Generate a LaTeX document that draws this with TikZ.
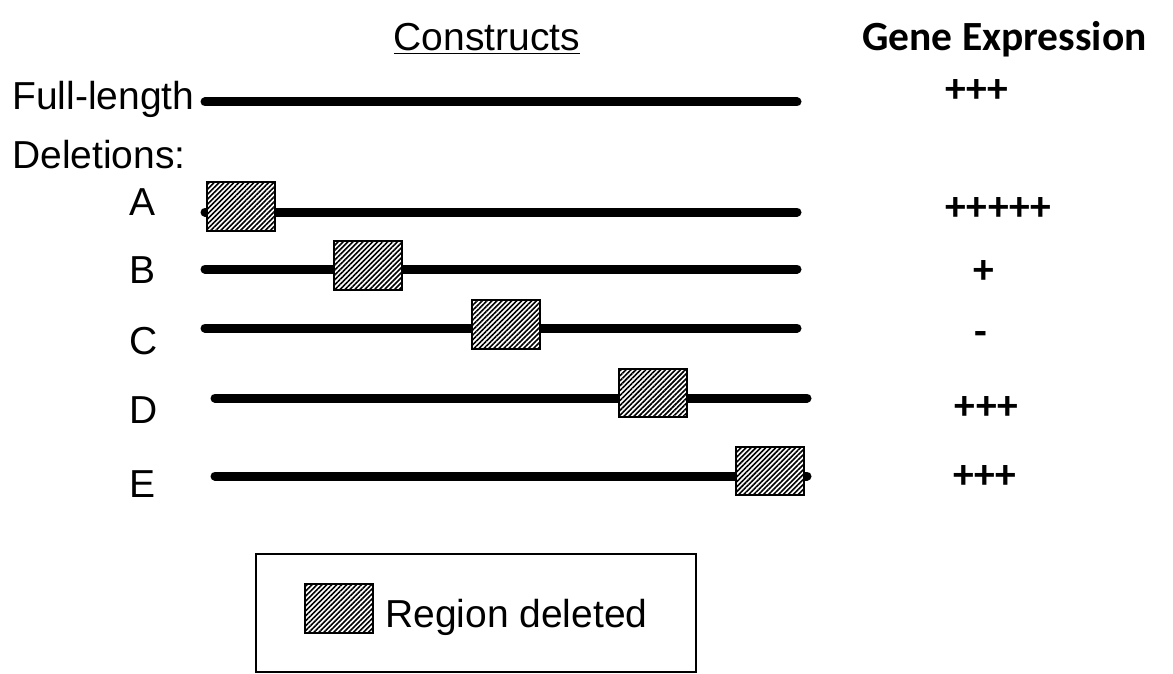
\documentclass[tikz,border=0pt]{standalone}
\usepackage{fontspec}
\setmainfont{Liberation Sans}
\newfontfamily\calib{Carlito}
\usetikzlibrary{patterns.meta}
\begin{document}
\begin{tikzpicture}[x=1pt,y=-1pt,
  construct/.style={line width=9pt,line cap=round},
  delbox/.style={draw=black,line width=1.3pt,preaction={fill=white},
     pattern={Lines[angle=45,distance=3.5pt,line width=1.6pt]}},
  lbl/.style={inner sep=0pt,font=\fontsize{39}{47}\selectfont},
  expr/.style={inner sep=0pt,font=\calib\bfseries\fontsize{41.5}{49}\selectfont}]
\useasboundingbox (0,0) rectangle (1173,674);
% headings
\node[lbl,anchor=base] (hcon) at (487,51) {\underline{Constructs}};
\node[expr,anchor=base] (hgene) at (1004.5,51) {Gene Expression};
% row labels
\node[lbl,anchor=base west] (lfull) at (12,110) {Full-length};
\node[lbl,anchor=base west] (ldel) at (12,168) {Deletions:};
\node[lbl] (lA) at (142.5,202) {A};
\node[lbl] (lB) at (142.5,270) {B};
\node[lbl] (lC) at (143.5,341) {C};
\node[lbl] (lD) at (143.5,410) {D};
\node[lbl] (lE) at (142.5,484) {E};
% constructs
\coordinate (f1) at (205,102); \coordinate (f2) at (797,102);
\coordinate (a1) at (205,212); \coordinate (a2) at (797,212);
\coordinate (b1) at (205,269); \coordinate (b2) at (797,269);
\coordinate (c1) at (205,328); \coordinate (c2) at (797,328);
\coordinate (d1) at (215,398); \coordinate (d2) at (807,398);
\coordinate (e1) at (215,476); \coordinate (e2) at (807,476);
\draw[construct] (f1) -- (f2);
\draw[construct] (a1) -- (a2);
\draw[construct] (b1) -- (b2);
\draw[construct] (c1) -- (c2);
\draw[construct] (d1) -- (d2);
\draw[construct] (e1) -- (e2);
% deleted regions
\draw[delbox] (207,182) rectangle (275,231);
\draw[delbox] (334,241) rectangle (402,290);
\draw[delbox] (472,300) rectangle (540,349);
\draw[delbox] (619,369) rectangle (687,417);
\draw[delbox] (736,447) rectangle (804,495);
% expression
\node[expr] (xf) at (977,91) {+++};
\node[expr] (xA) at (998.5,209) {+++++};
\node[expr] (xB) at (984,272) {+};
\node[expr] (xC) at (981,339) {-};
\node[expr] (xD) at (986.5,408) {+++};
\node[expr] (xE) at (985,477) {+++};
% legend
\draw[line width=1.3pt] (256,554) rectangle (696,672);
\draw[delbox] (305,584) rectangle (373,633);
\node[lbl,anchor=base west] (leg) at (385,627) {Region deleted};
\end{tikzpicture}
\end{document}
